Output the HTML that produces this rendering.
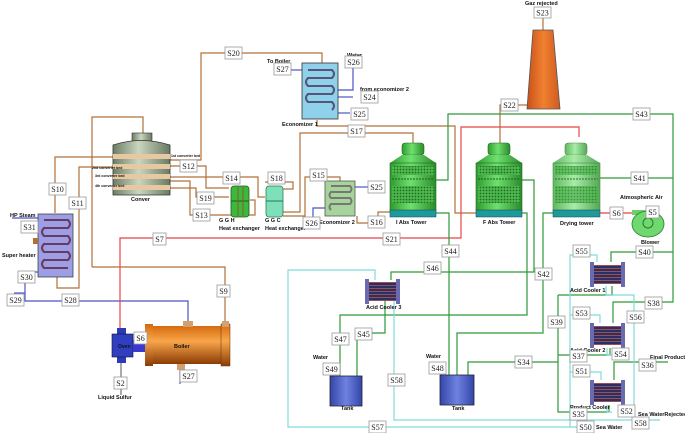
<!DOCTYPE html>
<html><head><meta charset="utf-8"><style>
body{margin:0;background:#fff}
svg{display:block}
.b{fill:#fff;stroke:#999;stroke-width:0.8}
.t{font-family:"Liberation Serif",serif;font-size:8px;fill:#222;text-anchor:middle}
.l{font-family:"Liberation Sans",sans-serif;font-size:5.5px;font-weight:bold;fill:#111}
.br{stroke:#b0703a;fill:none;stroke-width:1.2}
.gr{stroke:#2e9a3a;fill:none;stroke-width:1.2}
.rd{stroke:#e84545;fill:none;stroke-width:1.2}
.bl{stroke:#4a55c8;fill:none;stroke-width:1.2}
.cy{stroke:#7fdada;fill:none;stroke-width:1.2}
</style></head><body>
<svg width="685" height="433" viewBox="0 0 685 433" xmlns="http://www.w3.org/2000/svg">
<defs>
<linearGradient id="tw" x1="0" x2="1"><stop offset="0" stop-color="#2f9a2f"/><stop offset=".45" stop-color="#6fe06f"/><stop offset="1" stop-color="#2a8a2a"/></linearGradient>
<linearGradient id="tw2" x1="0" x2="1"><stop offset="0" stop-color="#5fb85f"/><stop offset=".45" stop-color="#a8eca8"/><stop offset="1" stop-color="#55a855"/></linearGradient>
<linearGradient id="cv" x1="0" x2="1"><stop offset="0" stop-color="#6e7e66"/><stop offset=".45" stop-color="#c9d6c0"/><stop offset="1" stop-color="#6a7a62"/></linearGradient>
<linearGradient id="bo" x1="0" y1="0" x2="0" y2="1"><stop offset="0" stop-color="#d56a10"/><stop offset=".4" stop-color="#f9a64a"/><stop offset="1" stop-color="#8a3c05"/></linearGradient>
<linearGradient id="ch" x1="0" x2="1"><stop offset="0" stop-color="#c9501a"/><stop offset=".5" stop-color="#f08030"/><stop offset="1" stop-color="#d05a20"/></linearGradient>
<linearGradient id="tk" x1="0" x2="1"><stop offset="0" stop-color="#3346a8"/><stop offset=".5" stop-color="#6f82e0"/><stop offset="1" stop-color="#3346a8"/></linearGradient>
<pattern id="pk" width="3" height="3" patternUnits="userSpaceOnUse"><rect width="3" height="3" fill="#4fb84f"/><circle cx="1.5" cy="1.5" r="0.9" fill="#1f6e1f"/></pattern>
<pattern id="hx" width="4" height="3" patternUnits="userSpaceOnUse"><rect width="4" height="3" fill="#2a2f66"/><rect y="1" width="4" height="1" fill="#9a5050"/></pattern>
</defs>

<polyline class="br" points="92,267 92,117 143,117 143,133"/>
<polyline class="br" points="113,157 55,157 55,213"/>
<polyline class="br" points="113,167 79,167 79,288 57,288 57,277"/>
<polyline class="br" points="92,267 225,267 225,322"/>
<polyline class="br" points="170,160 201,160 201,53 322,53 322,63"/>
<polyline class="br" points="170,166 206,166 206,188 229,188"/>
<polyline class="br" points="170,177 258,177 258,197 265,197"/>
<polyline class="br" points="170,188 196,188 196,197 229,197"/>
<polyline class="br" points="170,181 190,181 190,215 255,215 255,200 250,200"/>
<polyline class="br" points="265,182 293,182 293,189 283,189"/>
<polyline class="br" points="283,212 300,212 300,133 413,133 413,143"/>
<polyline class="br" points="283,216 305,216 305,177 340,177 340,181"/>
<polyline class="br" points="317,120 317,126 455,126 455,213 476,213"/>
<polyline class="br" points="357,216 357,223 378,223 378,212 390,212"/>
<polyline class="br" points="500,143 500,105 527,105"/>
<polyline class="br" points="543,30 543,18"/>
<polyline class="bl" points="38,272 25,272 25,301 188,301 188,322"/>
<polyline class="bl" points="25,293 14,293"/>
<polyline class="bl" points="38,218 12,218"/>
<polyline class="bl" points="180,370 180,384"/>
<polyline class="bl" points="302,70 290,70"/>
<polyline class="bl" points="353,68 353,90 338,90"/>
<polyline class="bl" points="338,97 353,97"/>
<polyline class="bl" points="338,113 350,113"/>
<polyline class="bl" points="355,187 368,187"/>
<polyline class="bl" points="325,208 313,208 313,218"/>
<polyline class="bl" points="133,346 145,346"/>
<line x1="121" y1="363" x2="121" y2="395" stroke="#555" stroke-width="1"/>
<polyline class="rd" points="120,329 120,238 461,238 461,127 579,127 579,137"/>
<polyline class="rd" points="640,213 600,213"/>
<polyline class="rd" points="648,212 648,222"/>
<polyline class="gr" points="436,180 448,180 448,114 673,114 673,302 613,302 613,323"/>
<polyline class="gr" points="673,252 611,252 611,262"/>
<polyline class="gr" points="600,178 673,178"/>
<polyline class="gr" points="436,213 449,213 449,377"/>
<polyline class="gr" points="522,180 534,180 534,272 391,272 391,280"/>
<polyline class="gr" points="553,213 543,213 543,333 457,333 457,375"/>
<polyline class="gr" points="522,213 527,213 527,315 340,315 340,376"/>
<polyline class="gr" points="357,376 357,333 385,333 385,300"/>
<polyline class="gr" points="468,375 468,362 558,362"/>
<polyline class="gr" points="558,295 558,412 609,412 609,405"/>
<polyline class="gr" points="558,295 612,295 612,286"/>
<polyline class="gr" points="558,355 610,355 610,348"/>
<polyline class="gr" points="614,380 614,362 668,362"/>
<polyline class="cy" points="588,427 288,427 288,270 375,270 375,280"/>
<polyline class="cy" points="394,300 394,420 660,420"/>
<polyline class="cy" points="570,427 570,255 597,255 597,262"/>
<polyline class="cy" points="570,315 600,315 600,323"/>
<polyline class="cy" points="570,372 601,372 601,380"/>
<polyline class="cy" points="606,286 606,295 634,295 634,420"/>
<polyline class="cy" points="607,348 607,355 612,355"/>
<polyline class="cy" points="607,405 607,412 612,412"/>

<polygon points="533,30 553,30 560,109 527,109" fill="url(#ch)" stroke="#555" stroke-width="0.8"/>
<rect x="302" y="63" width="36" height="56" fill="#8fd0ea" stroke="#333" stroke-width="0.8"/>
<path d="M308,70 H332 Q336,74 332,78 H308 Q304,82 308,86 H332 Q336,90 332,94 H308 Q304,98 308,102 H332 Q336,106 332,110" fill="none" stroke="#557" stroke-width="2"/>
<rect x="325" y="181" width="30" height="35" fill="#a6d49a" stroke="#555" stroke-width="0.8"/>
<path d="M331,186 H350 Q353,189 350,192 H331 Q328,195 331,198 H350 Q353,201 350,204 H331 Q328,207 331,210" fill="none" stroke="#777" stroke-width="2"/>
<rect x="132" y="133" width="20" height="9" fill="url(#cv)" stroke="#333" stroke-width="0.6"/>
<path d="M113,145 Q141,136 170,145 V195 H113 Z" fill="url(#cv)" stroke="#333" stroke-width="0.8"/>
<rect x="113" y="154" width="57" height="5" fill="#e8c8a0"/>
<rect x="113" y="164" width="57" height="5" fill="#e8c8a0"/>
<rect x="113" y="174" width="57" height="5" fill="#e8c8a0"/>
<rect x="113" y="185" width="57" height="5" fill="#e8c8a0"/>
<rect x="38" y="214" width="35" height="63" fill="#9c9ee8" stroke="#444" stroke-width="0.8"/>
<path d="M44,220 H68 Q72,224 68,228 H44 Q40,232 44,236 H68 Q72,240 68,244 H44 Q40,248 44,252 H68 Q72,256 68,260 H44 Q40,264 44,268 H68" fill="none" stroke="#6a3a5a" stroke-width="2"/>
<rect x="33" y="238" width="5" height="6" fill="#b0703a"/>
<rect x="231" y="186" width="18" height="31" rx="3" fill="#3cb83c" stroke="#1d5e1d" stroke-width="0.8"/>
<line x1="231" y1="201" x2="249" y2="201" stroke="#1d5e1d"/>
<line x1="238" y1="187" x2="238" y2="216" stroke="#8a5a2a"/><line x1="243" y1="187" x2="243" y2="216" stroke="#8a5a2a"/>
<rect x="266" y="186" width="17" height="31" rx="3" fill="#7ee0b8" stroke="#2a7a5a" stroke-width="0.8"/>
<line x1="266" y1="201" x2="283" y2="201" stroke="#2a7a5a"/>
<g id="tw1">
<rect x="402" y="143" width="22" height="12" rx="3" fill="url(#tw)" stroke="#1d6e1d" stroke-width="0.6"/>
<polygon points="402,155 424,155 436,163 390,163" fill="url(#tw)"/>
<rect x="390" y="163" width="46" height="48" fill="url(#tw)" stroke="#1d6e1d" stroke-width="0.6"/>
<rect x="392" y="166" width="42" height="9" fill="url(#pk)"/>
<line x1="392" y1="179" x2="434" y2="179" stroke="#1d5e1d" stroke-dasharray="2,1"/>
<rect x="392" y="186" width="42" height="17" fill="url(#pk)"/>
<rect x="390" y="210" width="46" height="7" fill="#1f9a9a" stroke="#145" stroke-width="0.5"/>
</g>
<use href="#tw1" x="86"/>
<g>
<rect x="565" y="143" width="22" height="12" rx="3" fill="url(#tw2)" stroke="#4a8a4a" stroke-width="0.6"/>
<polygon points="565,155 587,155 600,163 553,163" fill="url(#tw2)"/>
<rect x="553" y="163" width="47" height="48" fill="url(#tw2)" stroke="#4a8a4a" stroke-width="0.6"/>
<rect x="555" y="166" width="43" height="9" fill="url(#pk)" opacity=".7"/>
<line x1="555" y1="179" x2="598" y2="179" stroke="#2d6e2d" stroke-dasharray="2,1"/>
<rect x="555" y="186" width="43" height="17" fill="url(#pk)" opacity=".7"/>
<rect x="553" y="210" width="47" height="7" fill="#1f9a9a" stroke="#145" stroke-width="0.5"/>
</g>
<rect x="632" y="210" width="18" height="5" fill="#6fcf6f"/>
<ellipse cx="648" cy="224" rx="16" ry="13" fill="#6fd86f" stroke="#2a7a2a" stroke-width="0.8"/>
<circle cx="648" cy="223" r="5" fill="none" stroke="#2a7a2a"/>
<g id="ac"><rect x="590" y="262" width="4" height="25" fill="#6a6ab0"/><rect x="621" y="262" width="4" height="25" fill="#6a6ab0"/><rect x="594" y="265" width="27" height="19" fill="url(#hx)"/></g>
<use href="#ac" y="61"/>
<use href="#ac" y="118"/>
<use href="#ac" x="-225" y="17"/>
<rect x="330" y="376" width="32" height="30" fill="url(#tk)" stroke="#223" stroke-width="0.8"/>
<rect x="440" y="375" width="34" height="30" fill="url(#tk)" stroke="#223" stroke-width="0.8"/>
<polyline class="bl" points="326,367 336,367 336,378"/>
<polyline class="bl" points="433,367 444,367 444,377"/>
<rect x="117" y="328" width="9" height="7" fill="#2a3ab8"/>
<rect x="117" y="356" width="9" height="7" fill="#2a3ab8"/>
<rect x="112" y="334" width="21" height="23" fill="#2f3fc0" stroke="#112" stroke-width="0.6"/>
<rect x="133" y="340" width="12" height="12" fill="#3a3acf"/>
<rect x="145" y="324" width="8" height="42" fill="url(#bo)"/>
<rect x="153" y="326" width="68" height="38" fill="url(#bo)"/>
<rect x="221" y="324" width="9" height="42" fill="url(#bo)" stroke="#6a3005" stroke-width="0.5"/>
<rect x="183" y="321" width="10" height="6" fill="#d4a070"/>
<rect x="222" y="321" width="7" height="6" fill="#d4a070"/>
<rect x="177" y="364" width="8" height="6" fill="#d4a070"/>

<text class="l" x="525" y="5">Gaz rejected</text>
<text class="l" x="267" y="63">To Boiler</text>
<text class="l" x="347" y="57">Water</text>
<text class="l" x="360" y="91">from economizer 2</text>
<text class="l" x="282" y="126">Economizer 1</text>
<text class="l" x="171" y="157" style="font-size:3.5px">1st converter bed</text>
<text class="l" x="92" y="169" style="font-size:3.5px">2nd converter bed</text>
<text class="l" x="95" y="177" style="font-size:3.5px">3rd converter bed</text>
<text class="l" x="95" y="187" style="font-size:3.5px">4th converter bed</text>
<text class="l" x="131" y="201">Conver</text>
<text class="l" x="219" y="222">G G H</text>
<text class="l" x="219" y="230">Heat exchanger</text>
<text class="l" x="265" y="222">G G C</text>
<text class="l" x="265" y="230">Heat exchanger</text>
<text class="l" x="319" y="224">Economizer 2</text>
<text class="l" x="396" y="224">I Abs Tower</text>
<text class="l" x="483" y="224">F Abs Tower</text>
<text class="l" x="560" y="225">Drying tower</text>
<text class="l" x="620" y="199">Atmospheric Air</text>
<text class="l" x="641" y="244">Blower</text>
<text class="l" x="10" y="217">HP Steam</text>
<text class="l" x="2" y="257">Super heater</text>
<text class="l" x="118" y="348" style="font-size:5px">Oven</text>
<text class="l" x="174" y="348">Boiler</text>
<text class="l" x="98" y="399">Liquid Sulfur</text>
<text class="l" x="366" y="309">Acid Cooler 3</text>
<text class="l" x="570" y="292">Acid Cooler 1</text>
<text class="l" x="570" y="352">Acid Cooler 2</text>
<text class="l" x="570" y="409">Product Cooler</text>
<text class="l" x="650" y="359">Final Product</text>
<text class="l" x="638" y="416">Sea WaterRejected</text>
<text class="l" x="596" y="429">Sea Water</text>
<text class="l" x="313" y="359">Water</text>
<text class="l" x="426" y="358">Water</text>
<text class="l" x="341" y="410">Tank</text>
<text class="l" x="452" y="410">Tank</text>

<g>
<rect class="b" x="534" y="7" width="17" height="11"/><text class="t" x="542.5" y="15.5">S23</text>
<rect class="b" x="501" y="99" width="17" height="12"/><text class="t" x="509.5" y="108">S22</text>
<rect class="b" x="225" y="47" width="17" height="12"/><text class="t" x="233.5" y="56">S20</text>
<rect class="b" x="274" y="63" width="17" height="12"/><text class="t" x="282.5" y="72">S27</text>
<rect class="b" x="345" y="56" width="17" height="12"/><text class="t" x="353.5" y="65">S26</text>
<rect class="b" x="361" y="91" width="17" height="12"/><text class="t" x="369.5" y="100">S24</text>
<rect class="b" x="351" y="108" width="17" height="12"/><text class="t" x="359.5" y="117">S25</text>
<rect class="b" x="348" y="125" width="17" height="12"/><text class="t" x="356.5" y="134">S17</text>
<rect class="b" x="633" y="108" width="17" height="12"/><text class="t" x="641.5" y="117">S43</text>
<rect class="b" x="180" y="160" width="17" height="12"/><text class="t" x="188.5" y="169">S12</text>
<rect class="b" x="223" y="172" width="17" height="12"/><text class="t" x="231.5" y="181">S14</text>
<rect class="b" x="268" y="172" width="17" height="12"/><text class="t" x="276.5" y="181">S18</text>
<rect class="b" x="310" y="169" width="17" height="12"/><text class="t" x="318.5" y="178">S15</text>
<rect class="b" x="197" y="192" width="17" height="12"/><text class="t" x="205.5" y="201">S19</text>
<rect class="b" x="193" y="209" width="17" height="12"/><text class="t" x="201.5" y="218">S13</text>
<rect class="b" x="368" y="181" width="17" height="12"/><text class="t" x="376.5" y="190">S25</text>
<rect class="b" x="368" y="216" width="17" height="12"/><text class="t" x="376.5" y="225">S16</text>
<rect class="b" x="303" y="217" width="17" height="12"/><text class="t" x="311.5" y="226">S26</text>
<rect class="b" x="631" y="172" width="17" height="12"/><text class="t" x="639.5" y="181">S41</text>
<rect class="b" x="610" y="207" width="13" height="12"/><text class="t" x="616.5" y="216">S6</text>
<rect class="b" x="646" y="206" width="13" height="12"/><text class="t" x="652.5" y="215">S5</text>
<rect class="b" x="49" y="183" width="17" height="12"/><text class="t" x="57.5" y="192">S10</text>
<rect class="b" x="69" y="197" width="17" height="12"/><text class="t" x="77.5" y="206">S11</text>
<rect class="b" x="21" y="221" width="17" height="12"/><text class="t" x="29.5" y="230">S31</text>
<rect class="b" x="18" y="271" width="17" height="12"/><text class="t" x="26.5" y="280">S30</text>
<rect class="b" x="7" y="294" width="17" height="12"/><text class="t" x="15.5" y="303">S29</text>
<rect class="b" x="62" y="294" width="17" height="12"/><text class="t" x="70.5" y="303">S28</text>
<rect class="b" x="153" y="233" width="13" height="12"/><text class="t" x="159.5" y="242">S7</text>
<rect class="b" x="383" y="233" width="17" height="12"/><text class="t" x="391.5" y="242">S21</text>
<rect class="b" x="217" y="285" width="13" height="12"/><text class="t" x="223.5" y="294">S9</text>
<rect class="b" x="442" y="245" width="17" height="12"/><text class="t" x="450.5" y="254">S44</text>
<rect class="b" x="424" y="262" width="17" height="12"/><text class="t" x="432.5" y="271">S46</text>
<rect class="b" x="535" y="268" width="17" height="12"/><text class="t" x="543.5" y="277">S42</text>
<rect class="b" x="573" y="245" width="17" height="12"/><text class="t" x="581.5" y="254">S55</text>
<rect class="b" x="636" y="246" width="17" height="12"/><text class="t" x="644.5" y="255">S40</text>
<rect class="b" x="645" y="297" width="17" height="12"/><text class="t" x="653.5" y="306">S38</text>
<rect class="b" x="627" y="311" width="17" height="12"/><text class="t" x="635.5" y="320">S56</text>
<rect class="b" x="548" y="316" width="17" height="12"/><text class="t" x="556.5" y="325">S39</text>
<rect class="b" x="573" y="307" width="17" height="12"/><text class="t" x="581.5" y="316">S53</text>
<rect class="b" x="570" y="350" width="17" height="12"/><text class="t" x="578.5" y="359">S37</text>
<rect class="b" x="612" y="348" width="17" height="12"/><text class="t" x="620.5" y="357">S54</text>
<rect class="b" x="639" y="359" width="17" height="12"/><text class="t" x="647.5" y="368">S36</text>
<rect class="b" x="573" y="365" width="17" height="12"/><text class="t" x="581.5" y="374">S51</text>
<rect class="b" x="570" y="408" width="17" height="12"/><text class="t" x="578.5" y="417">S35</text>
<rect class="b" x="618" y="405" width="17" height="12"/><text class="t" x="626.5" y="414">S52</text>
<rect class="b" x="632" y="417" width="17" height="12"/><text class="t" x="640.5" y="426">S58</text>
<rect class="b" x="577" y="421" width="17" height="12"/><text class="t" x="585.5" y="430">S50</text>
<rect class="b" x="369" y="421" width="17" height="12"/><text class="t" x="377.5" y="430">S57</text>
<rect class="b" x="388" y="374" width="17" height="12"/><text class="t" x="396.5" y="383">S58</text>
<rect class="b" x="355" y="328" width="17" height="12"/><text class="t" x="363.5" y="337">S45</text>
<rect class="b" x="332" y="333" width="17" height="12"/><text class="t" x="340.5" y="342">S47</text>
<rect class="b" x="323" y="363" width="17" height="12"/><text class="t" x="331.5" y="372">S49</text>
<rect class="b" x="429" y="362" width="17" height="12"/><text class="t" x="437.5" y="371">S48</text>
<rect class="b" x="515" y="356" width="17" height="12"/><text class="t" x="523.5" y="365">S34</text>
<rect class="b" x="134" y="332" width="13" height="12"/><text class="t" x="140.5" y="341">S6</text>
<rect class="b" x="114" y="377" width="13" height="12"/><text class="t" x="120.5" y="386">S2</text>
<rect class="b" x="180" y="370" width="17" height="12"/><text class="t" x="188.5" y="379">S27</text>
</g>
</svg>
</body></html>
